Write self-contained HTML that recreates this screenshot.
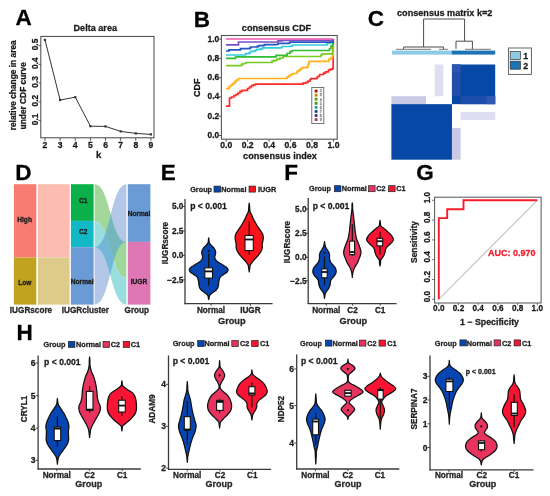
<!DOCTYPE html><html><head><meta charset="utf-8"><style>html,body{margin:0;padding:0;background:#fff;width:550px;height:496px;overflow:hidden}svg{display:block;filter:blur(0.3px)}text{font-family:"Liberation Sans", Arial, Helvetica, sans-serif;stroke-width:0.28px;paint-order:stroke;stroke-linejoin:round}</style></head><body>
<svg width="550" height="496" viewBox="0 0 550 496">
<rect width="550" height="496" fill="#fff"/>
<text x="15.4" y="24.6" font-size="22.5" text-anchor="start" font-weight="bold" fill="#000" stroke="#000" stroke-width="0.4">A</text>
<text x="193.8" y="27.2" font-size="22.5" text-anchor="start" font-weight="bold" fill="#000" stroke="#000" stroke-width="0.4">B</text>
<text x="367.8" y="25.8" font-size="22.5" text-anchor="start" font-weight="bold" fill="#000" stroke="#000" stroke-width="0.4">C</text>
<text x="15.2" y="179.6" font-size="22.5" text-anchor="start" font-weight="bold" fill="#000" stroke="#000" stroke-width="0.4">D</text>
<text x="160.8" y="179.8" font-size="22.5" text-anchor="start" font-weight="bold" fill="#000" stroke="#000" stroke-width="0.4">E</text>
<text x="284.2" y="179.7" font-size="22.5" text-anchor="start" font-weight="bold" fill="#000" stroke="#000" stroke-width="0.4">F</text>
<text x="416.2" y="179.8" font-size="22.5" text-anchor="start" font-weight="bold" fill="#000" stroke="#000" stroke-width="0.4">G</text>
<text x="16.5" y="340.2" font-size="22.5" text-anchor="start" font-weight="bold" fill="#000" stroke="#000" stroke-width="0.4">H</text>
<rect x="40.8" y="36.4" width="113.2" height="101.4" fill="none" stroke="#444" stroke-width="1"/>
<text x="95.3" y="30.7" font-size="9.1" text-anchor="middle" font-weight="bold" fill="#1a1a1a" stroke="#1a1a1a">Delta area</text>
<line x1="38.6" y1="45.7" x2="40.8" y2="45.7" stroke="#444" stroke-width="0.9"/>
<text x="38.1" y="44.5" font-size="8.3" text-anchor="middle" font-weight="bold" fill="#1a1a1a" stroke="#1a1a1a" transform="rotate(-90 38.1 44.5)" dy="-0.3">0.5</text>
<line x1="38.6" y1="64.4" x2="40.8" y2="64.4" stroke="#444" stroke-width="0.9"/>
<text x="38.1" y="63.2" font-size="8.3" text-anchor="middle" font-weight="bold" fill="#1a1a1a" stroke="#1a1a1a" transform="rotate(-90 38.1 63.2)" dy="-0.3">0.4</text>
<line x1="38.6" y1="83.1" x2="40.8" y2="83.1" stroke="#444" stroke-width="0.9"/>
<text x="38.1" y="81.9" font-size="8.3" text-anchor="middle" font-weight="bold" fill="#1a1a1a" stroke="#1a1a1a" transform="rotate(-90 38.1 81.9)" dy="-0.3">0.3</text>
<line x1="38.6" y1="101.9" x2="40.8" y2="101.9" stroke="#444" stroke-width="0.9"/>
<text x="38.1" y="100.7" font-size="8.3" text-anchor="middle" font-weight="bold" fill="#1a1a1a" stroke="#1a1a1a" transform="rotate(-90 38.1 100.7)" dy="-0.3">0.2</text>
<line x1="38.6" y1="120.6" x2="40.8" y2="120.6" stroke="#444" stroke-width="0.9"/>
<text x="38.1" y="119.4" font-size="8.3" text-anchor="middle" font-weight="bold" fill="#1a1a1a" stroke="#1a1a1a" transform="rotate(-90 38.1 119.4)" dy="-0.3">0.1</text>
<line x1="45" y1="137.8" x2="45" y2="140.8" stroke="#444" stroke-width="0.9"/>
<text x="45" y="147.6" font-size="8.6" text-anchor="middle" font-weight="bold" fill="#1a1a1a" stroke="#1a1a1a">2</text>
<line x1="60.13" y1="137.8" x2="60.13" y2="140.8" stroke="#444" stroke-width="0.9"/>
<text x="60.13" y="147.6" font-size="8.6" text-anchor="middle" font-weight="bold" fill="#1a1a1a" stroke="#1a1a1a">3</text>
<line x1="75.26" y1="137.8" x2="75.26" y2="140.8" stroke="#444" stroke-width="0.9"/>
<text x="75.26" y="147.6" font-size="8.6" text-anchor="middle" font-weight="bold" fill="#1a1a1a" stroke="#1a1a1a">4</text>
<line x1="90.39" y1="137.8" x2="90.39" y2="140.8" stroke="#444" stroke-width="0.9"/>
<text x="90.39" y="147.6" font-size="8.6" text-anchor="middle" font-weight="bold" fill="#1a1a1a" stroke="#1a1a1a">5</text>
<line x1="105.52" y1="137.8" x2="105.52" y2="140.8" stroke="#444" stroke-width="0.9"/>
<text x="105.52" y="147.6" font-size="8.6" text-anchor="middle" font-weight="bold" fill="#1a1a1a" stroke="#1a1a1a">6</text>
<line x1="120.65" y1="137.8" x2="120.65" y2="140.8" stroke="#444" stroke-width="0.9"/>
<text x="120.65" y="147.6" font-size="8.6" text-anchor="middle" font-weight="bold" fill="#1a1a1a" stroke="#1a1a1a">7</text>
<line x1="135.78" y1="137.8" x2="135.78" y2="140.8" stroke="#444" stroke-width="0.9"/>
<text x="135.78" y="147.6" font-size="8.6" text-anchor="middle" font-weight="bold" fill="#1a1a1a" stroke="#1a1a1a">8</text>
<line x1="150.91" y1="137.8" x2="150.91" y2="140.8" stroke="#444" stroke-width="0.9"/>
<text x="150.91" y="147.6" font-size="8.6" text-anchor="middle" font-weight="bold" fill="#1a1a1a" stroke="#1a1a1a">9</text>
<text x="98.6" y="157.6" font-size="9.5" text-anchor="middle" font-weight="bold" fill="#1a1a1a" stroke="#1a1a1a">k</text>
<text x="16.4" y="130.3" font-size="8.35" text-anchor="start" font-weight="bold" fill="#1a1a1a" stroke="#1a1a1a" transform="rotate(-90 16.4 130.3)">relative change in area</text>
<text x="26.3" y="129.4" font-size="8.35" text-anchor="start" font-weight="bold" fill="#1a1a1a" stroke="#1a1a1a" transform="rotate(-90 26.3 129.4)">under CDF curve</text>
<polyline points="45,39.9 60.1,100 75.3,97.2 90.4,126.2 105.5,126.4 120.7,131.4 135.8,133.4 150.9,134.4" fill="none" stroke="#333" stroke-width="1"/>
<rect x="43.9" y="38.8" width="2.2" height="2.2" fill="#333" stroke="none" stroke-width="1"/>
<rect x="59" y="98.9" width="2.2" height="2.2" fill="#333" stroke="none" stroke-width="1"/>
<rect x="74.2" y="96.1" width="2.2" height="2.2" fill="#333" stroke="none" stroke-width="1"/>
<rect x="89.3" y="125.1" width="2.2" height="2.2" fill="#333" stroke="none" stroke-width="1"/>
<rect x="104.4" y="125.3" width="2.2" height="2.2" fill="#333" stroke="none" stroke-width="1"/>
<rect x="119.6" y="130.3" width="2.2" height="2.2" fill="#333" stroke="none" stroke-width="1"/>
<rect x="134.7" y="132.3" width="2.2" height="2.2" fill="#333" stroke="none" stroke-width="1"/>
<rect x="149.8" y="133.3" width="2.2" height="2.2" fill="#333" stroke="none" stroke-width="1"/>
<text x="276.5" y="31" font-size="9.2" text-anchor="middle" font-weight="bold" fill="#1a1a1a" stroke="#1a1a1a">consensus CDF</text>
<line x1="218.6" y1="39.1" x2="221.4" y2="39.1" stroke="#444" stroke-width="0.9"/>
<text x="219.2" y="41.5" font-size="8.4" text-anchor="end" font-weight="bold" fill="#1a1a1a" stroke="#1a1a1a">1.0</text>
<line x1="218.6" y1="58.4" x2="221.4" y2="58.4" stroke="#444" stroke-width="0.9"/>
<text x="219.2" y="60.8" font-size="8.4" text-anchor="end" font-weight="bold" fill="#1a1a1a" stroke="#1a1a1a">0.8</text>
<line x1="218.6" y1="77.7" x2="221.4" y2="77.7" stroke="#444" stroke-width="0.9"/>
<text x="219.2" y="80.1" font-size="8.4" text-anchor="end" font-weight="bold" fill="#1a1a1a" stroke="#1a1a1a">0.6</text>
<line x1="218.6" y1="96.8" x2="221.4" y2="96.8" stroke="#444" stroke-width="0.9"/>
<text x="219.2" y="99.2" font-size="8.4" text-anchor="end" font-weight="bold" fill="#1a1a1a" stroke="#1a1a1a">0.4</text>
<line x1="218.6" y1="116.2" x2="221.4" y2="116.2" stroke="#444" stroke-width="0.9"/>
<text x="219.2" y="118.6" font-size="8.4" text-anchor="end" font-weight="bold" fill="#1a1a1a" stroke="#1a1a1a">0.2</text>
<line x1="218.6" y1="135.5" x2="221.4" y2="135.5" stroke="#444" stroke-width="0.9"/>
<text x="219.2" y="137.9" font-size="8.4" text-anchor="end" font-weight="bold" fill="#1a1a1a" stroke="#1a1a1a">0.0</text>
<line x1="226.2" y1="139.2" x2="226.2" y2="141.7" stroke="#444" stroke-width="0.9"/>
<text x="226.2" y="148.4" font-size="8.6" text-anchor="middle" font-weight="bold" fill="#1a1a1a" stroke="#1a1a1a">0.0</text>
<line x1="247.66" y1="139.2" x2="247.66" y2="141.7" stroke="#444" stroke-width="0.9"/>
<text x="247.66" y="148.4" font-size="8.6" text-anchor="middle" font-weight="bold" fill="#1a1a1a" stroke="#1a1a1a">0.2</text>
<line x1="269.12" y1="139.2" x2="269.12" y2="141.7" stroke="#444" stroke-width="0.9"/>
<text x="269.12" y="148.4" font-size="8.6" text-anchor="middle" font-weight="bold" fill="#1a1a1a" stroke="#1a1a1a">0.4</text>
<line x1="290.58" y1="139.2" x2="290.58" y2="141.7" stroke="#444" stroke-width="0.9"/>
<text x="290.58" y="148.4" font-size="8.6" text-anchor="middle" font-weight="bold" fill="#1a1a1a" stroke="#1a1a1a">0.6</text>
<line x1="312.04" y1="139.2" x2="312.04" y2="141.7" stroke="#444" stroke-width="0.9"/>
<text x="312.04" y="148.4" font-size="8.6" text-anchor="middle" font-weight="bold" fill="#1a1a1a" stroke="#1a1a1a">0.8</text>
<line x1="333.5" y1="139.2" x2="333.5" y2="141.7" stroke="#444" stroke-width="0.9"/>
<text x="333.5" y="148.4" font-size="8.6" text-anchor="middle" font-weight="bold" fill="#1a1a1a" stroke="#1a1a1a">1.0</text>
<text x="280" y="158.7" font-size="9.1" text-anchor="middle" font-weight="bold" fill="#1a1a1a" stroke="#1a1a1a">consensus index</text>
<text x="200.2" y="87.8" font-size="9" text-anchor="middle" font-weight="bold" fill="#1a1a1a" stroke="#1a1a1a" transform="rotate(-90 200.2 87.8)">CDF</text>
<polyline points="226,106.2 228.5,106.2 229.5,106.2 229.5,98 231.5,98 231.5,97 234,97 234,95.5 236,95.5 236,94.5 238,94.5 238,93 240,93 240,91.3 242,91.3 242,90.3 246,90.3 247.5,90.3 247.5,88.5 249.5,88.5 249.5,87 251.5,87 251.5,85.7 253.5,85.7 253.5,84.8 255.5,84.8 255.5,84.2 301.5,84.2 303,84.2 303,83.2 306,83.2 306,82.4 308,82.4 308,81.2 310,81.2 310,79.5 311,79.5 311,78.6 316,78.6 316,78.4 317.5,78.4 317.5,76.5 319.5,76.5 319.5,74.5 323.5,74.5 323.5,73.2 325.5,73.2 325.5,71.8 328.5,71.8 328.5,70.2 330.5,70.2 330.5,69.2 332.5,69.2 332.5,68.6 333.2,68.6 333.2,39.3" fill="none" stroke="#ff2a2a" stroke-width="1.7" stroke-linejoin="miter"/>
<polyline points="226,88.6 228,88.6 229,88.6 229,86.5 230.5,86.5 230.5,85.5 232,85.5 232,84.3 233.5,84.3 233.5,82.8 235,82.8 235,81.3 236.5,81.3 236.5,80 238.5,80 238.5,78.5 285,78.5 287,78.5 287,77 289,77 289,75.7 291,75.7 291,74.5 293,74.5 293,73.5 297,73.5 297,71.3 299,71.3 299,70.1 300.5,70.1 300.5,68.6 302,68.6 302,67.6 307,67.6 307,67.2 308,67.2 308,64.2 309,64.2 309,61.3 328,61.3 329,61.3 329,59.2 331,59.2 331,57.5 332.5,57.5 332.5,55.5 333.2,55.5 333.2,39.3" fill="none" stroke="#ffb21a" stroke-width="1.7" stroke-linejoin="miter"/>
<polyline points="226,65.6 240,65.6 241.5,65.6 241.5,64.3 243,64.3 243,63.5 246,63.5 246,62.5 270,62.5 272,62.5 272,61.2 274,61.2 274,60.3 277,60.3 277,59.2 280,59.2 280,58 283,58 283,56.5 320,56.5 321,56.5 321,55 322,55 322,53.8 331,53.8 332.5,53.8 332.5,50 333.2,50 333.2,39.3" fill="none" stroke="#77cc22" stroke-width="1.7" stroke-linejoin="miter"/>
<polyline points="226,58.3 234,58.3 235.5,58.3 235.5,57 237,57 237,56.8 274,56.8 276,56.8 276,55.4 285,55.4 287,55.4 287,53.5 290,53.5 290,51.6 292,51.6 292,50.5 328,50.5 329.5,50.5 329.5,48.5 331,48.5 331,46 332.5,46 332.5,44 333.2,44 333.2,39.3" fill="none" stroke="#33bb33" stroke-width="1.7" stroke-linejoin="miter"/>
<polyline points="226,55 244,55 245.5,55 245.5,53.7 249,53.7 249,52.8 250.5,52.8 250.5,51.3 255,51.3 255,50.5 256.5,50.5 256.5,49.3 261,49.3 261,48.8 262.5,48.8 262.5,47.8 280,47.8 280,47.6 282,47.6 282,46.5 291,46.5 291,46.2 292.5,46.2 292.5,45 325,45 327,45 327,43.5 330,43.5 330,42 332,42 332,40.5 333.2,40.5 333.2,39.3" fill="none" stroke="#33ccdd" stroke-width="1.7" stroke-linejoin="miter"/>
<polyline points="226,51 228,51 229,51 229,49.8 239,49.8 240.5,49.8 240.5,48.6 249,48.6 249,48.3 250.5,48.3 250.5,47 257,47 257,46.6 258.5,46.6 258.5,45.6 263,45.6 263,45.3 264.5,45.3 264.5,44.6 276,44.6 276,44.5 278,44.5 278,43.3 289,43.3 289,43 290,43 290,42.2 333.2,42.2 333.2,41.8 333.2,39.3" fill="none" stroke="#2456c0" stroke-width="1.7" stroke-linejoin="miter"/>
<polyline points="226,44.9 237,44.9 238.5,44.9 238.5,42 276,42 278,42 278,40.8 282,40.8 282,40.3 288,40.3 333.2,40.3 333.2,39.3" fill="none" stroke="#7a4fc4" stroke-width="1.7" stroke-linejoin="miter"/>
<polyline points="226,39 333.2,39" fill="none" stroke="#f055b0" stroke-width="1.7" stroke-linejoin="miter"/>
<rect x="221.4" y="35.5" width="115.8" height="103.7" fill="none" stroke="#555" stroke-width="1.1"/>
<rect x="311.8" y="87.4" width="12" height="36.2" fill="#fff" stroke="#555" stroke-width="0.8"/>
<rect x="314.7" y="89.7" width="2.8" height="2.8" fill="#a01010" stroke="none" stroke-width="1"/>
<text x="320.8" y="92.4" font-size="3.6" text-anchor="middle" font-weight="normal" fill="#888" stroke="#888" stroke-width="0.12">2</text>
<rect x="314.7" y="93.77" width="2.8" height="2.8" fill="#b88a00" stroke="none" stroke-width="1"/>
<text x="320.8" y="96.47" font-size="3.6" text-anchor="middle" font-weight="normal" fill="#888" stroke="#888" stroke-width="0.12">3</text>
<rect x="314.7" y="97.84" width="2.8" height="2.8" fill="#5a9a10" stroke="none" stroke-width="1"/>
<text x="320.8" y="100.54" font-size="3.6" text-anchor="middle" font-weight="normal" fill="#888" stroke="#888" stroke-width="0.12">4</text>
<rect x="314.7" y="101.91" width="2.8" height="2.8" fill="#2a9a2a" stroke="none" stroke-width="1"/>
<text x="320.8" y="104.61" font-size="3.6" text-anchor="middle" font-weight="normal" fill="#888" stroke="#888" stroke-width="0.12">5</text>
<rect x="314.7" y="105.98" width="2.8" height="2.8" fill="#229aaa" stroke="none" stroke-width="1"/>
<text x="320.8" y="108.68" font-size="3.6" text-anchor="middle" font-weight="normal" fill="#888" stroke="#888" stroke-width="0.12">6</text>
<rect x="314.7" y="110.05" width="2.8" height="2.8" fill="#1a3d9a" stroke="none" stroke-width="1"/>
<text x="320.8" y="112.75" font-size="3.6" text-anchor="middle" font-weight="normal" fill="#888" stroke="#888" stroke-width="0.12">7</text>
<rect x="314.7" y="114.12" width="2.8" height="2.8" fill="#4a2a8a" stroke="none" stroke-width="1"/>
<text x="320.8" y="116.82" font-size="3.6" text-anchor="middle" font-weight="normal" fill="#888" stroke="#888" stroke-width="0.12">8</text>
<rect x="314.7" y="118.19" width="2.8" height="2.8" fill="#b0306a" stroke="none" stroke-width="1"/>
<text x="320.8" y="120.89" font-size="3.6" text-anchor="middle" font-weight="normal" fill="#888" stroke="#888" stroke-width="0.12">9</text>
<text x="444.7" y="16.4" font-size="9.1" text-anchor="middle" font-weight="bold" fill="#1a1a1a" stroke="#1a1a1a">consensus matrix k=2</text>
<line x1="423.6" y1="19" x2="464.6" y2="19" stroke="#4a4a4a" stroke-width="1"/>
<line x1="423.6" y1="19" x2="423.6" y2="47" stroke="#4a4a4a" stroke-width="1"/>
<line x1="464.6" y1="19" x2="464.6" y2="41.2" stroke="#4a4a4a" stroke-width="1"/>
<line x1="456" y1="41.2" x2="472.4" y2="41.2" stroke="#4a4a4a" stroke-width="1"/>
<line x1="456" y1="41.2" x2="456" y2="48.8" stroke="#4a4a4a" stroke-width="1"/>
<line x1="472.4" y1="41.2" x2="472.4" y2="49.2" stroke="#4a4a4a" stroke-width="1"/>
<line x1="465" y1="49.3" x2="491" y2="49.3" stroke="#777" stroke-width="1"/>
<line x1="403.6" y1="47" x2="443.6" y2="47" stroke="#4a4a4a" stroke-width="1"/>
<line x1="403.6" y1="47" x2="403.6" y2="49.2" stroke="#4a4a4a" stroke-width="1"/>
<line x1="443.6" y1="47" x2="443.6" y2="49.2" stroke="#4a4a4a" stroke-width="1"/>
<line x1="396" y1="49.3" x2="431" y2="49.3" stroke="#777" stroke-width="1"/>
<line x1="439" y1="49.3" x2="448" y2="49.3" stroke="#777" stroke-width="1"/>
<rect x="392" y="50.6" width="59.7" height="4" fill="#8ccbe4" stroke="none" stroke-width="1"/>
<rect x="451.7" y="50.6" width="43.5" height="4" fill="#1a74b6" stroke="none" stroke-width="1"/>
<rect x="451.95" y="64.5" width="43.25" height="39.66" fill="#0747a6" stroke="none" stroke-width="1"/>
<rect x="451.95" y="64.5" width="8.65" height="31.73" fill="#1f4eab" stroke="none" stroke-width="1"/>
<rect x="451.95" y="64.5" width="8.65" height="7.93" fill="#2c55b0" stroke="none" stroke-width="1"/>
<rect x="460.6" y="96.23" width="34.6" height="7.93" fill="#1d4dab" stroke="none" stroke-width="1"/>
<rect x="486.55" y="96.23" width="8.65" height="7.93" fill="#2f58b2" stroke="none" stroke-width="1"/>
<rect x="434.65" y="64.5" width="8.65" height="31.73" fill="#dedef2" stroke="none" stroke-width="1"/>
<rect x="391.4" y="96.23" width="34.6" height="7.93" fill="#c9c9e5" stroke="none" stroke-width="1"/>
<rect x="391.4" y="104.16" width="60.55" height="55.53" fill="#0747a6" stroke="none" stroke-width="1"/>
<rect x="460.6" y="112.1" width="34.6" height="7.93" fill="#dedef2" stroke="none" stroke-width="1"/>
<rect x="451.95" y="127.96" width="8.65" height="31.73" fill="#c9c9e5" stroke="none" stroke-width="1"/>
<rect x="508.4" y="48" width="23" height="26.4" fill="#fff" stroke="#555" stroke-width="0.9"/>
<rect x="510.2" y="51.6" width="10.2" height="8" fill="#8ccbe4" stroke="#333" stroke-width="0.7"/>
<rect x="510.2" y="61.2" width="10.2" height="8" fill="#1a74b6" stroke="#333" stroke-width="0.7"/>
<text x="525.8" y="59.3" font-size="8.8" text-anchor="middle" font-weight="bold" fill="#1a1a1a" stroke="#1a1a1a">1</text>
<text x="525.8" y="69" font-size="8.8" text-anchor="middle" font-weight="bold" fill="#1a1a1a" stroke="#1a1a1a">2</text>
<rect x="13.9" y="184.2" width="22.4" height="73.3" fill="#f87c72" stroke="none" stroke-width="1"/>
<rect x="13.9" y="257.5" width="22.4" height="47.1" fill="#c1a31f" stroke="none" stroke-width="1"/>
<rect x="38" y="184.2" width="31.6" height="73.3" fill="#fcbcb2" stroke="none" stroke-width="1"/>
<rect x="38" y="257.5" width="31.6" height="47.1" fill="#dccb8b" stroke="none" stroke-width="1"/>
<rect x="70.9" y="184.2" width="22.7" height="36.7" fill="#0bb04a" stroke="none" stroke-width="1"/>
<rect x="70.9" y="220.9" width="22.7" height="26.3" fill="#13b8c6" stroke="none" stroke-width="1"/>
<rect x="70.9" y="247.2" width="22.7" height="57.4" fill="#6b9bd5" stroke="none" stroke-width="1"/>
<rect x="127.8" y="184.2" width="22.6" height="57.7" fill="#6b9bd5" stroke="none" stroke-width="1"/>
<rect x="127.8" y="241.9" width="22.6" height="62.7" fill="#de77b4" stroke="none" stroke-width="1"/>
<defs><clipPath id="cpB"><path d="M94.6,247.2 C110.5,247.2 110.5,184.2 126.4,184.2 L126.4,241.9 C110.5,241.9 110.5,304.6 94.6,304.6 Z"/></clipPath></defs>
<path d="M94.6,247.2 C110.5,247.2 110.5,184.2 126.4,184.2 L126.4,241.9 C110.5,241.9 110.5,304.6 94.6,304.6 Z" fill="#b4c7e8"/>
<path d="M94.6,184.2 C110.5,184.2 110.5,241.9 126.4,241.9 L126.4,277.7 C110.5,277.7 110.5,220.9 94.6,220.9 Z" fill="#a2d79c"/>
<path d="M94.6,220.9 C110.5,220.9 110.5,277.7 126.4,277.7 L126.4,304.6 C110.5,304.6 110.5,247.2 94.6,247.2 Z" fill="#98dedc"/>
<path d="M94.6,184.2 C110.5,184.2 110.5,241.9 126.4,241.9 L126.4,277.7 C110.5,277.7 110.5,220.9 94.6,220.9 Z" fill="#74b8bd" clip-path="url(#cpB)"/>
<path d="M94.6,220.9 C110.5,220.9 110.5,277.7 126.4,277.7 L126.4,304.6 C110.5,304.6 110.5,247.2 94.6,247.2 Z" fill="#74b6d8" clip-path="url(#cpB)"/>
<text x="24.6" y="221.8" font-size="6.6" text-anchor="middle" font-weight="bold" fill="#1a1a1a" stroke="#1a1a1a" stroke-width="0.12">High</text>
<text x="24.8" y="284.5" font-size="6.6" text-anchor="middle" font-weight="bold" fill="#1a1a1a" stroke="#1a1a1a" stroke-width="0.12">Low</text>
<text x="83.2" y="203.4" font-size="6.6" text-anchor="middle" font-weight="bold" fill="#1a1a1a" stroke="#1a1a1a" stroke-width="0.12">C1</text>
<text x="83.2" y="234.3" font-size="6.6" text-anchor="middle" font-weight="bold" fill="#1a1a1a" stroke="#1a1a1a" stroke-width="0.12">C2</text>
<text x="82.2" y="284.4" font-size="6.6" text-anchor="middle" font-weight="bold" fill="#1a1a1a" stroke="#1a1a1a" stroke-width="0.12">Normal</text>
<text x="139" y="216" font-size="6.6" text-anchor="middle" font-weight="bold" fill="#1a1a1a" stroke="#1a1a1a" stroke-width="0.12">Normal</text>
<text x="139" y="284.4" font-size="6.6" text-anchor="middle" font-weight="bold" fill="#1a1a1a" stroke="#1a1a1a" stroke-width="0.12">IUGR</text>
<text x="31" y="313" font-size="8.2" text-anchor="middle" font-weight="bold" fill="#262626" stroke="#262626">IUGRscore</text>
<text x="85.4" y="313" font-size="8.2" text-anchor="middle" font-weight="bold" fill="#262626" stroke="#262626">IUGRcluster</text>
<text x="136.8" y="313" font-size="8.2" text-anchor="middle" font-weight="bold" fill="#262626" stroke="#262626">Group</text>
<text x="190.2" y="191.7" font-size="7.3" text-anchor="start" font-weight="bold" fill="#262626" stroke="#262626" stroke-width="0.12">Group</text>
<rect x="214" y="186.1" width="6.5" height="6" fill="#0745b3" stroke="#222" stroke-width="0.7"/>
<text x="221.3" y="191.7" font-size="7.3" text-anchor="start" font-weight="bold" fill="#222" stroke="#222" stroke-width="0.12">Normal</text>
<rect x="249" y="186.1" width="6.5" height="6" fill="#f8141a" stroke="#222" stroke-width="0.7"/>
<text x="258" y="191.7" font-size="7.3" text-anchor="start" font-weight="bold" fill="#222" stroke="#222" stroke-width="0.12">IUGR</text>
<line x1="185" y1="199" x2="185" y2="304.2" stroke="#3a3a3a" stroke-width="1.3"/>
<line x1="184.5" y1="303.7" x2="272.6" y2="303.7" stroke="#3a3a3a" stroke-width="1.3"/>
<line x1="182.5" y1="206.5" x2="185" y2="206.5" stroke="#3a3a3a" stroke-width="0.9"/>
<text x="183.3" y="209.45" font-size="8.2" text-anchor="end" font-weight="bold" fill="#1e1e1e" stroke="#1e1e1e">5.0</text>
<line x1="182.5" y1="230.9" x2="185" y2="230.9" stroke="#3a3a3a" stroke-width="0.9"/>
<text x="183.3" y="233.85" font-size="8.2" text-anchor="end" font-weight="bold" fill="#1e1e1e" stroke="#1e1e1e">2.5</text>
<line x1="182.5" y1="255.4" x2="185" y2="255.4" stroke="#3a3a3a" stroke-width="0.9"/>
<text x="183.3" y="258.35" font-size="8.2" text-anchor="end" font-weight="bold" fill="#1e1e1e" stroke="#1e1e1e">0.0</text>
<line x1="182.5" y1="279.9" x2="185" y2="279.9" stroke="#3a3a3a" stroke-width="0.9"/>
<text x="183.3" y="282.85" font-size="8.2" text-anchor="end" font-weight="bold" fill="#1e1e1e" stroke="#1e1e1e">−2.5</text>
<text x="190.2" y="209.3" font-size="8.6" text-anchor="start" font-weight="bold" fill="#1a1a1a" stroke="#1a1a1a">p &lt; 0.001</text>
<text x="168.2" y="243" font-size="8.2" text-anchor="middle" font-weight="bold" fill="#222" stroke="#222" transform="rotate(-90 168.2 243)">IUGRscore</text>
<path d="M208.7,237.8 C208.75,238.17 208.91,239.22 209,240 C209.09,240.78 209.01,241.75 209.25,242.5 C209.49,243.25 209.92,243.83 210.45,244.5 C210.98,245.17 211.82,245.83 212.45,246.5 C213.08,247.17 213.75,247.75 214.25,248.5 C214.75,249.25 215.22,250.25 215.45,251 C215.68,251.75 215.68,252.33 215.65,253 C215.62,253.67 215.4,254.33 215.25,255 C215.1,255.67 214.7,256.25 214.75,257 C214.8,257.75 215,258.67 215.55,259.5 C216.1,260.33 216.9,261.13 218.05,262 C219.2,262.87 221.12,263.87 222.45,264.7 C223.78,265.53 225.12,266.18 226.05,267 C226.98,267.82 227.88,268.77 228.05,269.6 C228.22,270.43 227.77,271.18 227.05,272 C226.33,272.82 224.92,273.6 223.75,274.5 C222.58,275.4 220.87,276.22 220.05,277.4 C219.23,278.58 219.13,280.2 218.85,281.6 C218.57,283 218.58,284.65 218.35,285.8 C218.12,286.95 217.88,287.72 217.45,288.5 C217.02,289.28 216.48,289.83 215.75,290.5 C215.02,291.17 213.9,291.87 213.05,292.5 C212.2,293.13 211.27,293.72 210.65,294.3 C210.03,294.88 209.62,295.38 209.35,296 C209.08,296.62 209.16,297.42 209.05,298 C208.94,298.58 208.76,299.25 208.7,299.5 C208.64,299.25 208.46,298.58 208.35,298 C208.24,297.42 208.32,296.62 208.05,296 C207.78,295.38 207.37,294.88 206.75,294.3 C206.13,293.72 205.2,293.13 204.35,292.5 C203.5,291.87 202.38,291.17 201.65,290.5 C200.92,289.83 200.38,289.28 199.95,288.5 C199.52,287.72 199.28,286.95 199.05,285.8 C198.82,284.65 198.83,283 198.55,281.6 C198.27,280.2 198.17,278.58 197.35,277.4 C196.53,276.22 194.82,275.4 193.65,274.5 C192.48,273.6 191.07,272.82 190.35,272 C189.63,271.18 189.18,270.43 189.35,269.6 C189.52,268.77 190.42,267.82 191.35,267 C192.28,266.18 193.62,265.53 194.95,264.7 C196.28,263.87 198.2,262.87 199.35,262 C200.5,261.13 201.3,260.33 201.85,259.5 C202.4,258.67 202.6,257.75 202.65,257 C202.7,256.25 202.3,255.67 202.15,255 C202,254.33 201.78,253.67 201.75,253 C201.72,252.33 201.72,251.75 201.95,251 C202.18,250.25 202.65,249.25 203.15,248.5 C203.65,247.75 204.32,247.17 204.95,246.5 C205.58,245.83 206.42,245.17 206.95,244.5 C207.48,243.83 207.91,243.25 208.15,242.5 C208.39,241.75 208.31,240.78 208.4,240 C208.49,239.22 208.65,238.17 208.7,237.8 Z" fill="#0745b3" stroke="#111" stroke-width="1.25" stroke-linejoin="round"/>
<line x1="208.7" y1="253.4" x2="208.7" y2="285.8" stroke="#111" stroke-width="1.2"/>
<rect x="204.8" y="267.8" width="7.7" height="10.3" fill="#fff" stroke="#111" stroke-width="1.1"/>
<line x1="204.8" y1="271.4" x2="212.5" y2="271.4" stroke="#111" stroke-width="1.8"/>
<circle cx="208.7" cy="251.2" r="1.1" fill="#111"/>
<path d="M249.2,203.1 C249.26,203.58 249.46,204.98 249.55,206 C249.64,207.02 249.63,208.15 249.75,209.2 C249.87,210.25 249.9,211.28 250.25,212.3 C250.6,213.32 251.25,214.03 251.85,215.3 C252.45,216.57 253.08,218.37 253.85,219.9 C254.62,221.43 255.52,222.97 256.45,224.5 C257.38,226.03 258.52,227.7 259.45,229.1 C260.38,230.5 261.42,231.62 262.05,232.9 C262.68,234.18 263.1,235.52 263.25,236.8 C263.4,238.08 263.13,239.33 262.95,240.6 C262.77,241.87 262.25,243.25 262.15,244.4 C262.05,245.55 262.53,246.35 262.35,247.5 C262.17,248.65 261.7,250.02 261.05,251.3 C260.4,252.58 259.48,253.92 258.45,255.2 C257.42,256.48 255.88,257.85 254.85,259 C253.82,260.15 253.02,261.08 252.25,262.1 C251.48,263.12 250.67,264.08 250.25,265.1 C249.83,266.12 249.93,267.05 249.75,268.2 C249.57,269.35 249.29,271.37 249.2,272 C249.11,271.37 248.82,269.35 248.65,268.2 C248.47,267.05 248.57,266.12 248.15,265.1 C247.73,264.08 246.92,263.12 246.15,262.1 C245.38,261.08 244.58,260.15 243.55,259 C242.52,257.85 240.98,256.48 239.95,255.2 C238.92,253.92 238,252.58 237.35,251.3 C236.7,250.02 236.23,248.65 236.05,247.5 C235.87,246.35 236.35,245.55 236.25,244.4 C236.15,243.25 235.63,241.87 235.45,240.6 C235.27,239.33 235,238.08 235.15,236.8 C235.3,235.52 235.72,234.18 236.35,232.9 C236.98,231.62 238.02,230.5 238.95,229.1 C239.88,227.7 241.02,226.03 241.95,224.5 C242.88,222.97 243.78,221.43 244.55,219.9 C245.32,218.37 245.95,216.57 246.55,215.3 C247.15,214.03 247.8,213.32 248.15,212.3 C248.5,211.28 248.53,210.25 248.65,209.2 C248.77,208.15 248.76,207.02 248.85,206 C248.94,204.98 249.14,203.58 249.2,203.1 Z" fill="#f8141a" stroke="#111" stroke-width="1.25" stroke-linejoin="round"/>
<line x1="249.2" y1="221.5" x2="249.2" y2="254.4" stroke="#111" stroke-width="1.2"/>
<rect x="245" y="235.5" width="8.3" height="15.1" fill="#fff" stroke="#111" stroke-width="1.1"/>
<line x1="245" y1="239.5" x2="253.3" y2="239.5" stroke="#111" stroke-width="1.8"/>
<line x1="211" y1="303.7" x2="211" y2="305.9" stroke="#3a3a3a" stroke-width="0.9"/>
<text x="211" y="312.6" font-size="8.2" text-anchor="middle" font-weight="bold" fill="#222" stroke="#222">Normal</text>
<line x1="250.4" y1="303.7" x2="250.4" y2="305.9" stroke="#3a3a3a" stroke-width="0.9"/>
<text x="250.4" y="312.6" font-size="8.2" text-anchor="middle" font-weight="bold" fill="#222" stroke="#222">IUGR</text>
<text x="231.8" y="324.3" font-size="9.2" text-anchor="middle" font-weight="bold" fill="#262626" stroke="#262626">Group</text>
<text x="309" y="191.3" font-size="7.3" text-anchor="start" font-weight="bold" fill="#262626" stroke="#262626" stroke-width="0.12">Group</text>
<rect x="334.4" y="185.7" width="6.5" height="6" fill="#0745b3" stroke="#222" stroke-width="0.7"/>
<text x="341.7" y="191.3" font-size="7.3" text-anchor="start" font-weight="bold" fill="#222" stroke="#222" stroke-width="0.12">Normal</text>
<rect x="368.6" y="185.7" width="6.5" height="6" fill="#e6345e" stroke="#222" stroke-width="0.7"/>
<text x="376.3" y="191.3" font-size="7.3" text-anchor="start" font-weight="bold" fill="#222" stroke="#222" stroke-width="0.12">C2</text>
<rect x="388.6" y="185.7" width="6.5" height="6" fill="#f81432" stroke="#222" stroke-width="0.7"/>
<text x="396.3" y="191.3" font-size="7.3" text-anchor="start" font-weight="bold" fill="#222" stroke="#222" stroke-width="0.12">C1</text>
<line x1="308.2" y1="198" x2="308.2" y2="304.1" stroke="#3a3a3a" stroke-width="1.3"/>
<line x1="307.7" y1="303.6" x2="396.6" y2="303.6" stroke="#3a3a3a" stroke-width="1.3"/>
<line x1="305.7" y1="209" x2="308.2" y2="209" stroke="#3a3a3a" stroke-width="0.9"/>
<text x="306.5" y="211.95" font-size="8.2" text-anchor="end" font-weight="bold" fill="#1e1e1e" stroke="#1e1e1e">5.0</text>
<line x1="305.7" y1="233.2" x2="308.2" y2="233.2" stroke="#3a3a3a" stroke-width="0.9"/>
<text x="306.5" y="236.15" font-size="8.2" text-anchor="end" font-weight="bold" fill="#1e1e1e" stroke="#1e1e1e">2.5</text>
<line x1="305.7" y1="257.3" x2="308.2" y2="257.3" stroke="#3a3a3a" stroke-width="0.9"/>
<text x="306.5" y="260.25" font-size="8.2" text-anchor="end" font-weight="bold" fill="#1e1e1e" stroke="#1e1e1e">0.0</text>
<line x1="305.7" y1="280.6" x2="308.2" y2="280.6" stroke="#3a3a3a" stroke-width="0.9"/>
<text x="306.5" y="283.55" font-size="8.2" text-anchor="end" font-weight="bold" fill="#1e1e1e" stroke="#1e1e1e">−2.5</text>
<text x="312.7" y="209.3" font-size="8.6" text-anchor="start" font-weight="bold" fill="#1a1a1a" stroke="#1a1a1a">p &lt; 0.001</text>
<text x="290" y="242" font-size="8.2" text-anchor="middle" font-weight="bold" fill="#222" stroke="#222" transform="rotate(-90 290 242)">IUGRscore</text>
<path d="M324.5,241.5 C324.56,241.92 324.71,243.17 324.85,244 C324.99,244.83 325.08,245.75 325.35,246.5 C325.62,247.25 326,247.73 326.45,248.5 C326.9,249.27 327.62,250.35 328.05,251.1 C328.48,251.85 328.8,252.32 329.05,253 C329.3,253.68 329.48,254.48 329.55,255.2 C329.62,255.92 329.43,256.62 329.45,257.3 C329.47,257.98 329.5,258.62 329.65,259.3 C329.8,259.98 330.03,260.72 330.35,261.4 C330.67,262.08 331.05,262.72 331.55,263.4 C332.05,264.08 332.77,264.82 333.35,265.5 C333.93,266.18 334.62,266.82 335.05,267.5 C335.48,268.18 335.77,268.9 335.95,269.6 C336.13,270.3 336.2,271 336.15,271.7 C336.1,272.4 335.95,273.12 335.65,273.8 C335.35,274.48 334.88,275.12 334.35,275.8 C333.82,276.48 333.02,277.22 332.45,277.9 C331.88,278.58 331.28,279.22 330.95,279.9 C330.62,280.58 330.57,281.32 330.45,282 C330.33,282.68 330.52,282.98 330.25,284 C329.98,285.02 329.35,287.02 328.85,288.1 C328.35,289.18 327.72,289.82 327.25,290.5 C326.78,291.18 326.4,291.62 326.05,292.2 C325.7,292.78 325.35,293.37 325.15,294 C324.95,294.63 324.96,295.27 324.85,296 C324.74,296.73 324.56,298 324.5,298.4 C324.44,298 324.26,296.73 324.15,296 C324.04,295.27 324.05,294.63 323.85,294 C323.65,293.37 323.3,292.78 322.95,292.2 C322.6,291.62 322.22,291.18 321.75,290.5 C321.28,289.82 320.65,289.18 320.15,288.1 C319.65,287.02 319.02,285.02 318.75,284 C318.48,282.98 318.67,282.68 318.55,282 C318.43,281.32 318.38,280.58 318.05,279.9 C317.72,279.22 317.12,278.58 316.55,277.9 C315.98,277.22 315.18,276.48 314.65,275.8 C314.12,275.12 313.65,274.48 313.35,273.8 C313.05,273.12 312.9,272.4 312.85,271.7 C312.8,271 312.87,270.3 313.05,269.6 C313.23,268.9 313.52,268.18 313.95,267.5 C314.38,266.82 315.07,266.18 315.65,265.5 C316.23,264.82 316.95,264.08 317.45,263.4 C317.95,262.72 318.33,262.08 318.65,261.4 C318.97,260.72 319.2,259.98 319.35,259.3 C319.5,258.62 319.53,257.98 319.55,257.3 C319.57,256.62 319.38,255.92 319.45,255.2 C319.52,254.48 319.7,253.68 319.95,253 C320.2,252.32 320.52,251.85 320.95,251.1 C321.38,250.35 322.1,249.27 322.55,248.5 C323,247.73 323.38,247.25 323.65,246.5 C323.92,245.75 324.01,244.83 324.15,244 C324.29,243.17 324.44,241.92 324.5,241.5 Z" fill="#0745b3" stroke="#111" stroke-width="1.25" stroke-linejoin="round"/>
<line x1="324.5" y1="256.6" x2="324.5" y2="285.4" stroke="#111" stroke-width="1.2"/>
<rect x="321.7" y="268.9" width="5.5" height="8.9" fill="#fff" stroke="#111" stroke-width="1.1"/>
<line x1="321.7" y1="272" x2="327.2" y2="272" stroke="#111" stroke-width="1.8"/>
<circle cx="324.5" cy="253.1" r="1.1" fill="#111"/>
<path d="M352.3,202.8 C352.35,203.17 352.55,204.13 352.6,205 C352.65,205.87 352.56,207.05 352.6,208 C352.64,208.95 352.73,209.55 352.85,210.7 C352.98,211.85 353.1,212.8 353.35,214.9 C353.6,217 354.03,220.48 354.35,223.3 C354.67,226.12 354.9,229.27 355.25,231.8 C355.6,234.33 355.92,236.53 356.45,238.5 C356.98,240.47 357.82,241.9 358.45,243.6 C359.08,245.3 359.83,247.3 360.25,248.7 C360.67,250.1 360.9,250.95 360.95,252 C361,253.05 360.75,254.15 360.55,255 C360.35,255.85 360.22,255.9 359.75,257.1 C359.28,258.3 358.58,260.5 357.75,262.2 C356.92,263.9 355.48,265.9 354.75,267.3 C354.02,268.7 353.7,269.48 353.35,270.6 C353,271.72 352.83,272.87 352.65,274 C352.48,275.13 352.36,276.83 352.3,277.4 C352.24,276.83 352.12,275.13 351.95,274 C351.77,272.87 351.6,271.72 351.25,270.6 C350.9,269.48 350.58,268.7 349.85,267.3 C349.12,265.9 347.68,263.9 346.85,262.2 C346.02,260.5 345.32,258.3 344.85,257.1 C344.38,255.9 344.25,255.85 344.05,255 C343.85,254.15 343.6,253.05 343.65,252 C343.7,250.95 343.93,250.1 344.35,248.7 C344.77,247.3 345.52,245.3 346.15,243.6 C346.78,241.9 347.62,240.47 348.15,238.5 C348.68,236.53 349,234.33 349.35,231.8 C349.7,229.27 349.93,226.12 350.25,223.3 C350.57,220.48 351,217 351.25,214.9 C351.5,212.8 351.62,211.85 351.75,210.7 C351.88,209.55 351.96,208.95 352,208 C352.04,207.05 351.95,205.87 352,205 C352.05,204.13 352.25,203.17 352.3,202.8 Z" fill="#e6345e" stroke="#111" stroke-width="1.25" stroke-linejoin="round"/>
<line x1="352.3" y1="224" x2="352.3" y2="256" stroke="#111" stroke-width="1.2"/>
<rect x="349.6" y="241.1" width="5" height="13.5" fill="#fff" stroke="#111" stroke-width="1.1"/>
<line x1="349.6" y1="252" x2="354.6" y2="252" stroke="#111" stroke-width="1.8"/>
<path d="M380,220.4 C380.06,220.75 380.26,221.78 380.35,222.5 C380.44,223.22 380.42,224.07 380.55,224.7 C380.68,225.33 380.58,225.67 381.15,226.3 C381.72,226.93 382.95,227.68 383.95,228.5 C384.95,229.32 386.12,230.28 387.15,231.2 C388.18,232.12 389.3,233.08 390.15,234 C391,234.92 391.7,235.8 392.25,236.7 C392.8,237.6 393.48,238.5 393.45,239.4 C393.42,240.3 392.73,241.2 392.05,242.1 C391.37,243 390.28,243.88 389.35,244.8 C388.42,245.72 387.08,246.78 386.45,247.6 C385.82,248.42 385.8,248.88 385.55,249.7 C385.3,250.52 385.22,251.58 384.95,252.5 C384.68,253.42 384.4,254.3 383.95,255.2 C383.5,256.1 382.8,257.08 382.25,257.9 C381.7,258.72 380.93,259.28 380.65,260.1 C380.37,260.92 380.66,261.82 380.55,262.8 C380.44,263.78 380.09,265.47 380,266 C379.91,265.47 379.56,263.78 379.45,262.8 C379.34,261.82 379.63,260.92 379.35,260.1 C379.07,259.28 378.3,258.72 377.75,257.9 C377.2,257.08 376.5,256.1 376.05,255.2 C375.6,254.3 375.32,253.42 375.05,252.5 C374.78,251.58 374.7,250.52 374.45,249.7 C374.2,248.88 374.18,248.42 373.55,247.6 C372.92,246.78 371.58,245.72 370.65,244.8 C369.72,243.88 368.63,243 367.95,242.1 C367.27,241.2 366.58,240.3 366.55,239.4 C366.52,238.5 367.2,237.6 367.75,236.7 C368.3,235.8 369,234.92 369.85,234 C370.7,233.08 371.82,232.12 372.85,231.2 C373.88,230.28 375.05,229.32 376.05,228.5 C377.05,227.68 378.28,226.93 378.85,226.3 C379.42,225.67 379.32,225.33 379.45,224.7 C379.58,224.07 379.56,223.22 379.65,222.5 C379.74,221.78 379.94,220.75 380,220.4 Z" fill="#f81432" stroke="#111" stroke-width="1.25" stroke-linejoin="round"/>
<line x1="380" y1="231.8" x2="380" y2="254.6" stroke="#111" stroke-width="1.2"/>
<rect x="377" y="238.3" width="5.7" height="7.6" fill="#fff" stroke="#111" stroke-width="1.1"/>
<line x1="377" y1="241.2" x2="382.7" y2="241.2" stroke="#111" stroke-width="1.8"/>
<line x1="326.3" y1="303.6" x2="326.3" y2="305.8" stroke="#3a3a3a" stroke-width="0.9"/>
<text x="326.3" y="312.6" font-size="8.2" text-anchor="middle" font-weight="bold" fill="#222" stroke="#222">Normal</text>
<line x1="352.6" y1="303.6" x2="352.6" y2="305.8" stroke="#3a3a3a" stroke-width="0.9"/>
<text x="352.6" y="312.6" font-size="8.2" text-anchor="middle" font-weight="bold" fill="#222" stroke="#222">C2</text>
<line x1="380.2" y1="303.6" x2="380.2" y2="305.8" stroke="#3a3a3a" stroke-width="0.9"/>
<text x="380.2" y="312.6" font-size="8.2" text-anchor="middle" font-weight="bold" fill="#222" stroke="#222">C1</text>
<text x="353.4" y="324.3" font-size="9.2" text-anchor="middle" font-weight="bold" fill="#262626" stroke="#262626">Group</text>
<line x1="438.8" y1="299.3" x2="537.3" y2="200.3" stroke="#c2c2c2" stroke-width="1.15"/>
<polyline points="438.8,299.3 438.8,218.12 447.2,218.12 447.2,209.21 463.5,209.21 463.5,200.3 537.3,200.3" fill="none" stroke="#f41c28" stroke-width="1.9"/>
<rect x="434.6" y="197.2" width="106.5" height="105.8" fill="none" stroke="#555" stroke-width="1"/>
<line x1="432" y1="299.3" x2="434.6" y2="299.3" stroke="#555" stroke-width="0.8"/>
<text x="429.6" y="296.5" font-size="8.2" text-anchor="middle" font-weight="bold" fill="#1a1a1a" stroke="#1a1a1a" transform="rotate(-90 429.6 296.5)">0.0</text>
<line x1="438.8" y1="303" x2="438.8" y2="305.3" stroke="#555" stroke-width="0.8"/>
<text x="438.8" y="311.2" font-size="8.2" text-anchor="middle" font-weight="bold" fill="#1a1a1a" stroke="#1a1a1a">0.0</text>
<line x1="432" y1="279.5" x2="434.6" y2="279.5" stroke="#555" stroke-width="0.8"/>
<text x="429.6" y="276.7" font-size="8.2" text-anchor="middle" font-weight="bold" fill="#1a1a1a" stroke="#1a1a1a" transform="rotate(-90 429.6 276.7)">0.2</text>
<line x1="458.5" y1="303" x2="458.5" y2="305.3" stroke="#555" stroke-width="0.8"/>
<text x="458.5" y="311.2" font-size="8.2" text-anchor="middle" font-weight="bold" fill="#1a1a1a" stroke="#1a1a1a">0.2</text>
<line x1="432" y1="259.7" x2="434.6" y2="259.7" stroke="#555" stroke-width="0.8"/>
<text x="429.6" y="256.9" font-size="8.2" text-anchor="middle" font-weight="bold" fill="#1a1a1a" stroke="#1a1a1a" transform="rotate(-90 429.6 256.9)">0.4</text>
<line x1="478.2" y1="303" x2="478.2" y2="305.3" stroke="#555" stroke-width="0.8"/>
<text x="478.2" y="311.2" font-size="8.2" text-anchor="middle" font-weight="bold" fill="#1a1a1a" stroke="#1a1a1a">0.4</text>
<line x1="432" y1="239.9" x2="434.6" y2="239.9" stroke="#555" stroke-width="0.8"/>
<text x="429.6" y="237.1" font-size="8.2" text-anchor="middle" font-weight="bold" fill="#1a1a1a" stroke="#1a1a1a" transform="rotate(-90 429.6 237.1)">0.6</text>
<line x1="497.9" y1="303" x2="497.9" y2="305.3" stroke="#555" stroke-width="0.8"/>
<text x="497.9" y="311.2" font-size="8.2" text-anchor="middle" font-weight="bold" fill="#1a1a1a" stroke="#1a1a1a">0.6</text>
<line x1="432" y1="220.1" x2="434.6" y2="220.1" stroke="#555" stroke-width="0.8"/>
<text x="429.6" y="217.3" font-size="8.2" text-anchor="middle" font-weight="bold" fill="#1a1a1a" stroke="#1a1a1a" transform="rotate(-90 429.6 217.3)">0.8</text>
<line x1="517.6" y1="303" x2="517.6" y2="305.3" stroke="#555" stroke-width="0.8"/>
<text x="517.6" y="311.2" font-size="8.2" text-anchor="middle" font-weight="bold" fill="#1a1a1a" stroke="#1a1a1a">0.8</text>
<line x1="432" y1="200.3" x2="434.6" y2="200.3" stroke="#555" stroke-width="0.8"/>
<text x="429.6" y="197.5" font-size="8.2" text-anchor="middle" font-weight="bold" fill="#1a1a1a" stroke="#1a1a1a" transform="rotate(-90 429.6 197.5)">1.0</text>
<line x1="537.3" y1="303" x2="537.3" y2="305.3" stroke="#555" stroke-width="0.8"/>
<text x="537.3" y="311.2" font-size="8.2" text-anchor="middle" font-weight="bold" fill="#1a1a1a" stroke="#1a1a1a">1.0</text>
<text x="489.5" y="324.5" font-size="8.8" text-anchor="middle" font-weight="bold" fill="#222" stroke="#222">1 − Specificity</text>
<text x="416.8" y="242" font-size="8.4" text-anchor="middle" font-weight="bold" fill="#222" stroke="#222" transform="rotate(-90 416.8 242)">Sensitivity</text>
<text x="511.8" y="256" font-size="9" text-anchor="middle" font-weight="bold" fill="#ee2030" stroke="#ee2030">AUC: 0.970</text>
<text x="43.6" y="347" font-size="7.3" text-anchor="start" font-weight="bold" fill="#262626" stroke="#262626" stroke-width="0.12">Group</text>
<rect x="68.4" y="341.4" width="6.5" height="6" fill="#0745b3" stroke="#222" stroke-width="0.7"/>
<text x="76" y="347" font-size="7.3" text-anchor="start" font-weight="bold" fill="#222" stroke="#222" stroke-width="0.12">Normal</text>
<rect x="103" y="341.4" width="6.5" height="6" fill="#e6345e" stroke="#222" stroke-width="0.7"/>
<text x="110.8" y="347" font-size="7.3" text-anchor="start" font-weight="bold" fill="#222" stroke="#222" stroke-width="0.12">C2</text>
<rect x="123.2" y="341.4" width="6.5" height="6" fill="#f81432" stroke="#222" stroke-width="0.7"/>
<text x="130.8" y="347" font-size="7.3" text-anchor="start" font-weight="bold" fill="#222" stroke="#222" stroke-width="0.12">C1</text>
<line x1="38.1" y1="355.4" x2="38.1" y2="469.5" stroke="#3a3a3a" stroke-width="1.3"/>
<line x1="37.6" y1="469" x2="140.8" y2="469" stroke="#3a3a3a" stroke-width="1.3"/>
<line x1="35.6" y1="363" x2="38.1" y2="363" stroke="#3a3a3a" stroke-width="0.9"/>
<text x="35.5" y="366.06" font-size="8.5" text-anchor="end" font-weight="bold" fill="#1e1e1e" stroke="#1e1e1e">6</text>
<line x1="35.6" y1="395.7" x2="38.1" y2="395.7" stroke="#3a3a3a" stroke-width="0.9"/>
<text x="35.5" y="398.76" font-size="8.5" text-anchor="end" font-weight="bold" fill="#1e1e1e" stroke="#1e1e1e">5</text>
<line x1="35.6" y1="428.1" x2="38.1" y2="428.1" stroke="#3a3a3a" stroke-width="0.9"/>
<text x="35.5" y="431.16" font-size="8.5" text-anchor="end" font-weight="bold" fill="#1e1e1e" stroke="#1e1e1e">4</text>
<line x1="35.6" y1="460.4" x2="38.1" y2="460.4" stroke="#3a3a3a" stroke-width="0.9"/>
<text x="35.5" y="463.46" font-size="8.5" text-anchor="end" font-weight="bold" fill="#1e1e1e" stroke="#1e1e1e">3</text>
<text x="44.1" y="364.8" font-size="8.6" text-anchor="start" font-weight="bold" fill="#1a1a1a" stroke="#1a1a1a">p &lt; 0.001</text>
<text x="26.6" y="409" font-size="8.2" text-anchor="middle" font-weight="bold" fill="#222" stroke="#222" transform="rotate(-90 26.6 409)">CRYL1</text>
<path d="M57.4,398.5 C57.46,399 57.61,400.52 57.75,401.5 C57.89,402.48 57.72,403.17 58.25,404.4 C58.78,405.63 60,407.4 60.95,408.9 C61.9,410.4 63.07,411.9 63.95,413.4 C64.83,414.9 65.55,416.4 66.25,417.9 C66.95,419.4 67.7,420.92 68.15,422.4 C68.6,423.88 68.92,425.32 68.95,426.8 C68.98,428.28 68.42,429.8 68.35,431.3 C68.28,432.8 68.52,434.3 68.55,435.8 C68.58,437.3 68.82,438.82 68.55,440.3 C68.28,441.78 67.72,443.22 66.95,444.7 C66.18,446.18 65,447.7 63.95,449.2 C62.9,450.7 61.52,452.45 60.65,453.7 C59.78,454.95 59.2,455.7 58.75,456.7 C58.3,457.7 58.17,458.47 57.95,459.7 C57.72,460.93 57.49,463.37 57.4,464.1 C57.31,463.37 57.08,460.93 56.85,459.7 C56.62,458.47 56.5,457.7 56.05,456.7 C55.6,455.7 55.02,454.95 54.15,453.7 C53.28,452.45 51.9,450.7 50.85,449.2 C49.8,447.7 48.62,446.18 47.85,444.7 C47.08,443.22 46.52,441.78 46.25,440.3 C45.98,438.82 46.22,437.3 46.25,435.8 C46.28,434.3 46.52,432.8 46.45,431.3 C46.38,429.8 45.82,428.28 45.85,426.8 C45.88,425.32 46.2,423.88 46.65,422.4 C47.1,420.92 47.85,419.4 48.55,417.9 C49.25,416.4 49.97,414.9 50.85,413.4 C51.73,411.9 52.9,410.4 53.85,408.9 C54.8,407.4 56.02,405.63 56.55,404.4 C57.08,403.17 56.91,402.48 57.05,401.5 C57.19,400.52 57.34,399 57.4,398.5 Z" fill="#0745b3" stroke="#111" stroke-width="1.25" stroke-linejoin="round"/>
<line x1="57.4" y1="416.4" x2="57.4" y2="447" stroke="#111" stroke-width="1.2"/>
<rect x="54.2" y="427.1" width="6.5" height="13.5" fill="#fff" stroke="#111" stroke-width="1.1"/>
<line x1="54.2" y1="428.6" x2="60.7" y2="428.6" stroke="#111" stroke-width="1.8"/>
<path d="M89.6,357 C89.65,357.55 89.82,358.87 89.9,360.3 C89.97,361.73 89.82,363.82 90.05,365.6 C90.28,367.38 90.67,369.22 91.25,371 C91.83,372.78 92.9,374.53 93.55,376.3 C94.2,378.07 94.7,379.83 95.15,381.6 C95.6,383.37 95.95,385.12 96.25,386.9 C96.55,388.68 96.77,390.52 96.95,392.3 C97.13,394.08 97.1,395.98 97.35,397.6 C97.6,399.22 97.95,400.52 98.45,402 C98.95,403.48 100.13,404.87 100.35,406.5 C100.57,408.13 100.32,410.03 99.75,411.8 C99.18,413.57 97.92,415.33 96.95,417.1 C95.98,418.87 94.9,420.63 93.95,422.4 C93,424.17 91.85,426.22 91.25,427.7 C90.65,429.18 90.62,429.67 90.35,431.3 C90.07,432.93 89.72,436.47 89.6,437.5 C89.47,436.47 89.12,432.93 88.85,431.3 C88.57,429.67 88.55,429.18 87.95,427.7 C87.35,426.22 86.2,424.17 85.25,422.4 C84.3,420.63 83.22,418.87 82.25,417.1 C81.28,415.33 80.02,413.57 79.45,411.8 C78.88,410.03 78.63,408.13 78.85,406.5 C79.07,404.87 80.25,403.48 80.75,402 C81.25,400.52 81.6,399.22 81.85,397.6 C82.1,395.98 82.07,394.08 82.25,392.3 C82.43,390.52 82.65,388.68 82.95,386.9 C83.25,385.12 83.6,383.37 84.05,381.6 C84.5,379.83 85,378.07 85.65,376.3 C86.3,374.53 87.37,372.78 87.95,371 C88.53,369.22 88.92,367.38 89.15,365.6 C89.38,363.82 89.22,361.73 89.3,360.3 C89.38,358.87 89.55,357.55 89.6,357 Z" fill="#e6345e" stroke="#111" stroke-width="1.25" stroke-linejoin="round"/>
<line x1="89.6" y1="386" x2="89.6" y2="412.7" stroke="#111" stroke-width="1.2"/>
<rect x="86.4" y="391.4" width="6.6" height="19" fill="#fff" stroke="#111" stroke-width="1.1"/>
<line x1="86.4" y1="409.6" x2="93" y2="409.6" stroke="#111" stroke-width="1.8"/>
<path d="M121.9,380.8 C121.96,381.2 122.12,382.38 122.25,383.2 C122.38,384.02 122.13,384.88 122.65,385.7 C123.17,386.52 124.3,387.3 125.35,388.1 C126.4,388.9 127.75,389.7 128.95,390.5 C130.15,391.3 131.58,392 132.55,392.9 C133.52,393.8 134.18,394.68 134.75,395.9 C135.32,397.12 135.67,398.68 135.95,400.2 C136.23,401.72 136.38,403.4 136.45,405 C136.52,406.6 136.55,408.4 136.35,409.8 C136.15,411.2 135.88,412.18 135.25,413.4 C134.62,414.62 133.6,415.88 132.55,417.1 C131.5,418.32 130.15,419.6 128.95,420.7 C127.75,421.8 126.4,422.8 125.35,423.7 C124.3,424.6 123.17,425.3 122.65,426.1 C122.13,426.9 122.38,427.68 122.25,428.5 C122.12,429.32 121.96,430.58 121.9,431 C121.84,430.58 121.68,429.32 121.55,428.5 C121.43,427.68 121.67,426.9 121.15,426.1 C120.63,425.3 119.5,424.6 118.45,423.7 C117.4,422.8 116.05,421.8 114.85,420.7 C113.65,419.6 112.3,418.32 111.25,417.1 C110.2,415.88 109.18,414.62 108.55,413.4 C107.92,412.18 107.65,411.2 107.45,409.8 C107.25,408.4 107.28,406.6 107.35,405 C107.42,403.4 107.57,401.72 107.85,400.2 C108.13,398.68 108.48,397.12 109.05,395.9 C109.62,394.68 110.28,393.8 111.25,392.9 C112.22,392 113.65,391.3 114.85,390.5 C116.05,389.7 117.4,388.9 118.45,388.1 C119.5,387.3 120.63,386.52 121.15,385.7 C121.67,384.88 121.43,384.02 121.55,383.2 C121.68,382.38 121.84,381.2 121.9,380.8 Z" fill="#f81432" stroke="#111" stroke-width="1.25" stroke-linejoin="round"/>
<line x1="121.9" y1="395.9" x2="121.9" y2="415.9" stroke="#111" stroke-width="1.2"/>
<rect x="118.7" y="400.2" width="6.6" height="11.8" fill="#fff" stroke="#111" stroke-width="1.1"/>
<line x1="118.7" y1="405.6" x2="125.3" y2="405.6" stroke="#111" stroke-width="1.8"/>
<line x1="56.8" y1="469" x2="56.8" y2="471.2" stroke="#3a3a3a" stroke-width="0.9"/>
<text x="56.8" y="478.3" font-size="8.2" text-anchor="middle" font-weight="bold" fill="#222" stroke="#222">Normal</text>
<line x1="89.6" y1="469" x2="89.6" y2="471.2" stroke="#3a3a3a" stroke-width="0.9"/>
<text x="89.6" y="478.3" font-size="8.2" text-anchor="middle" font-weight="bold" fill="#222" stroke="#222">C2</text>
<line x1="122.2" y1="469" x2="122.2" y2="471.2" stroke="#3a3a3a" stroke-width="0.9"/>
<text x="122.2" y="478.3" font-size="8.2" text-anchor="middle" font-weight="bold" fill="#222" stroke="#222">C1</text>
<text x="88.8" y="486.6" font-size="9" text-anchor="middle" font-weight="bold" fill="#262626" stroke="#262626">Group</text>
<text x="172.7" y="346.2" font-size="7.3" text-anchor="start" font-weight="bold" fill="#262626" stroke="#262626" stroke-width="0.12">Group</text>
<rect x="197.7" y="340.6" width="6.5" height="6" fill="#0745b3" stroke="#222" stroke-width="0.7"/>
<text x="204.4" y="346.2" font-size="7.3" text-anchor="start" font-weight="bold" fill="#222" stroke="#222" stroke-width="0.12">Normal</text>
<rect x="231.8" y="340.6" width="6.5" height="6" fill="#e6345e" stroke="#222" stroke-width="0.7"/>
<text x="240" y="346.2" font-size="7.3" text-anchor="start" font-weight="bold" fill="#222" stroke="#222" stroke-width="0.12">C2</text>
<rect x="251.7" y="340.6" width="6.5" height="6" fill="#f81432" stroke="#222" stroke-width="0.7"/>
<text x="259.9" y="346.2" font-size="7.3" text-anchor="start" font-weight="bold" fill="#222" stroke="#222" stroke-width="0.12">C1</text>
<line x1="168.5" y1="355.4" x2="168.5" y2="469.8" stroke="#3a3a3a" stroke-width="1.3"/>
<line x1="168" y1="469.3" x2="271.1" y2="469.3" stroke="#3a3a3a" stroke-width="1.3"/>
<line x1="166" y1="384.4" x2="168.5" y2="384.4" stroke="#3a3a3a" stroke-width="0.9"/>
<text x="165.9" y="387.46" font-size="8.5" text-anchor="end" font-weight="bold" fill="#1e1e1e" stroke="#1e1e1e">4</text>
<line x1="166" y1="426.3" x2="168.5" y2="426.3" stroke="#3a3a3a" stroke-width="0.9"/>
<text x="165.9" y="429.36" font-size="8.5" text-anchor="end" font-weight="bold" fill="#1e1e1e" stroke="#1e1e1e">3</text>
<line x1="166" y1="468.1" x2="168.5" y2="468.1" stroke="#3a3a3a" stroke-width="0.9"/>
<text x="165.9" y="471.16" font-size="8.5" text-anchor="end" font-weight="bold" fill="#1e1e1e" stroke="#1e1e1e">2</text>
<text x="172.7" y="364.3" font-size="8.6" text-anchor="start" font-weight="bold" fill="#1a1a1a" stroke="#1a1a1a">p &lt; 0.001</text>
<text x="155.3" y="409" font-size="8.2" text-anchor="middle" font-weight="bold" fill="#222" stroke="#222" transform="rotate(-90 155.3 409)">ADAM9</text>
<path d="M187.3,381.5 C187.36,382.25 187.56,384.52 187.65,386 C187.74,387.48 187.68,389.07 187.85,390.4 C188.02,391.73 188.23,392.52 188.65,394 C189.07,395.48 189.92,397.53 190.35,399.3 C190.78,401.07 190.95,402.83 191.25,404.6 C191.55,406.37 191.78,408.12 192.15,409.9 C192.52,411.68 193,413.52 193.45,415.3 C193.9,417.08 194.4,418.83 194.85,420.6 C195.3,422.37 196.1,424.13 196.15,425.9 C196.2,427.67 195.67,429.42 195.15,431.2 C194.63,432.98 193.7,434.82 193.05,436.6 C192.4,438.38 191.78,440.13 191.25,441.9 C190.72,443.67 190.28,445.43 189.85,447.2 C189.42,448.97 188.98,451.02 188.65,452.5 C188.32,453.98 188.08,454.47 187.85,456.1 C187.63,457.73 187.39,461.27 187.3,462.3 C187.21,461.27 186.97,457.73 186.75,456.1 C186.53,454.47 186.28,453.98 185.95,452.5 C185.62,451.02 185.18,448.97 184.75,447.2 C184.32,445.43 183.88,443.67 183.35,441.9 C182.82,440.13 182.2,438.38 181.55,436.6 C180.9,434.82 179.97,432.98 179.45,431.2 C178.93,429.42 178.4,427.67 178.45,425.9 C178.5,424.13 179.3,422.37 179.75,420.6 C180.2,418.83 180.7,417.08 181.15,415.3 C181.6,413.52 182.08,411.68 182.45,409.9 C182.82,408.12 183.05,406.37 183.35,404.6 C183.65,402.83 183.82,401.07 184.25,399.3 C184.68,397.53 185.53,395.48 185.95,394 C186.37,392.52 186.58,391.73 186.75,390.4 C186.92,389.07 186.86,387.48 186.95,386 C187.04,384.52 187.24,382.25 187.3,381.5 Z" fill="#0745b3" stroke="#111" stroke-width="1.25" stroke-linejoin="round"/>
<line x1="187.3" y1="401" x2="187.3" y2="444.5" stroke="#111" stroke-width="1.2"/>
<rect x="184.3" y="416.7" width="6" height="13.6" fill="#fff" stroke="#111" stroke-width="1.1"/>
<line x1="184.3" y1="429.5" x2="190.3" y2="429.5" stroke="#111" stroke-width="1.8"/>
<path d="M219.6,360.6 C219.66,361.37 219.82,364.05 219.95,365.2 C220.07,366.35 219.9,366.62 220.35,367.5 C220.8,368.38 222,369.48 222.65,370.5 C223.3,371.52 223.92,372.7 224.25,373.6 C224.58,374.5 224.78,375 224.65,375.9 C224.52,376.8 223.95,377.98 223.45,379 C222.95,380.02 222.22,380.85 221.65,382 C221.08,383.15 220.22,384.75 220.05,385.9 C219.88,387.05 220.03,387.88 220.65,388.9 C221.27,389.92 222.65,390.98 223.75,392 C224.85,393.02 226.23,393.85 227.25,395 C228.27,396.15 229.17,397.48 229.85,398.9 C230.53,400.32 231.07,402.1 231.35,403.5 C231.63,404.9 231.72,406.03 231.55,407.3 C231.38,408.57 231.07,409.82 230.35,411.1 C229.63,412.38 228.4,413.72 227.25,415 C226.1,416.28 224.55,417.67 223.45,418.8 C222.35,419.93 221.22,420.85 220.65,421.8 C220.08,422.75 220.22,423.47 220.05,424.5 C219.87,425.53 219.67,427.42 219.6,428 C219.53,427.42 219.33,425.53 219.15,424.5 C218.97,423.47 219.12,422.75 218.55,421.8 C217.98,420.85 216.85,419.93 215.75,418.8 C214.65,417.67 213.1,416.28 211.95,415 C210.8,413.72 209.57,412.38 208.85,411.1 C208.13,409.82 207.82,408.57 207.65,407.3 C207.48,406.03 207.57,404.9 207.85,403.5 C208.13,402.1 208.67,400.32 209.35,398.9 C210.03,397.48 210.93,396.15 211.95,395 C212.97,393.85 214.35,393.02 215.45,392 C216.55,390.98 217.93,389.92 218.55,388.9 C219.17,387.88 219.32,387.05 219.15,385.9 C218.98,384.75 218.12,383.15 217.55,382 C216.98,380.85 216.25,380.02 215.75,379 C215.25,377.98 214.68,376.8 214.55,375.9 C214.42,375 214.62,374.5 214.95,373.6 C215.28,372.7 215.9,371.52 216.55,370.5 C217.2,369.48 218.4,368.38 218.85,367.5 C219.3,366.62 219.12,366.35 219.25,365.2 C219.38,364.05 219.54,361.37 219.6,360.6 Z" fill="#e6345e" stroke="#111" stroke-width="1.25" stroke-linejoin="round"/>
<line x1="219.6" y1="399.6" x2="219.6" y2="412.7" stroke="#111" stroke-width="1.2"/>
<rect x="216.6" y="400.4" width="6.5" height="10" fill="#fff" stroke="#111" stroke-width="1.1"/>
<line x1="216.6" y1="401.9" x2="223.1" y2="401.9" stroke="#111" stroke-width="1.8"/>
<circle cx="219.6" cy="375.4" r="1.1" fill="#111"/>
<path d="M251.9,369.8 C251.97,370.42 252.16,372.68 252.35,373.5 C252.54,374.32 252.5,374.1 253.05,374.7 C253.6,375.3 254.6,376.3 255.65,377.1 C256.7,377.9 258.23,378.7 259.35,379.5 C260.47,380.3 261.45,381 262.35,381.9 C263.25,382.8 264.05,383.78 264.75,384.9 C265.45,386.02 266.13,387.48 266.55,388.6 C266.97,389.72 267.35,390.6 267.25,391.6 C267.15,392.6 266.77,393.6 265.95,394.6 C265.13,395.6 263.57,396.6 262.35,397.6 C261.13,398.6 259.57,399.6 258.65,400.6 C257.73,401.6 257.17,402.58 256.85,403.6 C256.53,404.62 256.95,405.68 256.75,406.7 C256.55,407.72 256.13,408.7 255.65,409.7 C255.17,410.7 254.35,411.8 253.85,412.7 C253.35,413.6 252.97,413.88 252.65,415.1 C252.33,416.32 252.03,419.18 251.9,420 C251.78,419.18 251.47,416.32 251.15,415.1 C250.83,413.88 250.45,413.6 249.95,412.7 C249.45,411.8 248.63,410.7 248.15,409.7 C247.67,408.7 247.25,407.72 247.05,406.7 C246.85,405.68 247.27,404.62 246.95,403.6 C246.63,402.58 246.07,401.6 245.15,400.6 C244.23,399.6 242.67,398.6 241.45,397.6 C240.23,396.6 238.67,395.6 237.85,394.6 C237.03,393.6 236.65,392.6 236.55,391.6 C236.45,390.6 236.83,389.72 237.25,388.6 C237.67,387.48 238.35,386.02 239.05,384.9 C239.75,383.78 240.55,382.8 241.45,381.9 C242.35,381 243.33,380.3 244.45,379.5 C245.57,378.7 247.1,377.9 248.15,377.1 C249.2,376.3 250.2,375.3 250.75,374.7 C251.3,374.1 251.26,374.32 251.45,373.5 C251.64,372.68 251.83,370.42 251.9,369.8 Z" fill="#f81432" stroke="#111" stroke-width="1.25" stroke-linejoin="round"/>
<line x1="251.9" y1="382.5" x2="251.9" y2="407.3" stroke="#111" stroke-width="1.2"/>
<rect x="248.9" y="386.7" width="6" height="8.3" fill="#fff" stroke="#111" stroke-width="1.1"/>
<line x1="248.9" y1="393.4" x2="254.9" y2="393.4" stroke="#111" stroke-width="1.8"/>
<line x1="187.2" y1="469.3" x2="187.2" y2="471.5" stroke="#3a3a3a" stroke-width="0.9"/>
<text x="187.2" y="478.3" font-size="8.2" text-anchor="middle" font-weight="bold" fill="#222" stroke="#222">Normal</text>
<line x1="220" y1="469.3" x2="220" y2="471.5" stroke="#3a3a3a" stroke-width="0.9"/>
<text x="220" y="478.3" font-size="8.2" text-anchor="middle" font-weight="bold" fill="#222" stroke="#222">C2</text>
<line x1="252.3" y1="469.3" x2="252.3" y2="471.5" stroke="#3a3a3a" stroke-width="0.9"/>
<text x="252.3" y="478.3" font-size="8.2" text-anchor="middle" font-weight="bold" fill="#222" stroke="#222">C1</text>
<text x="219" y="486.6" font-size="9" text-anchor="middle" font-weight="bold" fill="#262626" stroke="#262626">Group</text>
<text x="300" y="345.7" font-size="7.3" text-anchor="start" font-weight="bold" fill="#262626" stroke="#262626" stroke-width="0.12">Group</text>
<rect x="325.4" y="340.1" width="6.5" height="6" fill="#0745b3" stroke="#222" stroke-width="0.7"/>
<text x="332.6" y="345.7" font-size="7.3" text-anchor="start" font-weight="bold" fill="#222" stroke="#222" stroke-width="0.12">Normal</text>
<rect x="359.4" y="340.1" width="6.5" height="6" fill="#e6345e" stroke="#222" stroke-width="0.7"/>
<text x="367.2" y="345.7" font-size="7.3" text-anchor="start" font-weight="bold" fill="#222" stroke="#222" stroke-width="0.12">C2</text>
<rect x="379" y="340.1" width="6.5" height="6" fill="#f81432" stroke="#222" stroke-width="0.7"/>
<text x="387.2" y="345.7" font-size="7.3" text-anchor="start" font-weight="bold" fill="#222" stroke="#222" stroke-width="0.12">C1</text>
<line x1="296.7" y1="354.5" x2="296.7" y2="469.5" stroke="#3a3a3a" stroke-width="1.3"/>
<line x1="296.2" y1="469" x2="399.3" y2="469" stroke="#3a3a3a" stroke-width="1.3"/>
<line x1="294.2" y1="369" x2="296.7" y2="369" stroke="#3a3a3a" stroke-width="0.9"/>
<text x="294.1" y="372.06" font-size="8.5" text-anchor="end" font-weight="bold" fill="#1e1e1e" stroke="#1e1e1e">6</text>
<line x1="294.2" y1="405.6" x2="296.7" y2="405.6" stroke="#3a3a3a" stroke-width="0.9"/>
<text x="294.1" y="408.66" font-size="8.5" text-anchor="end" font-weight="bold" fill="#1e1e1e" stroke="#1e1e1e">5</text>
<line x1="294.2" y1="443" x2="296.7" y2="443" stroke="#3a3a3a" stroke-width="0.9"/>
<text x="294.1" y="446.06" font-size="8.5" text-anchor="end" font-weight="bold" fill="#1e1e1e" stroke="#1e1e1e">4</text>
<text x="300.9" y="364.3" font-size="8.6" text-anchor="start" font-weight="bold" fill="#1a1a1a" stroke="#1a1a1a">p &lt; 0.001</text>
<text x="284.2" y="409" font-size="8.2" text-anchor="middle" font-weight="bold" fill="#222" stroke="#222" transform="rotate(-90 284.2 409)">NDP52</text>
<path d="M315.8,393.9 C315.86,394.58 316.06,396.68 316.15,398 C316.24,399.32 316.17,400.65 316.35,401.8 C316.53,402.95 316.72,403.85 317.25,404.9 C317.78,405.95 318.77,407.05 319.55,408.1 C320.33,409.15 321.2,410.02 321.95,411.2 C322.7,412.38 323.52,413.88 324.05,415.2 C324.58,416.52 325.1,417.8 325.15,419.1 C325.2,420.4 324.83,421.55 324.35,423 C323.87,424.45 322.87,426.22 322.25,427.8 C321.63,429.38 321.1,430.93 320.65,432.5 C320.2,434.07 319.92,435.63 319.55,437.2 C319.18,438.77 318.78,440.33 318.45,441.9 C318.12,443.47 317.88,445.03 317.55,446.6 C317.22,448.17 316.67,449.72 316.45,451.3 C316.23,452.88 316.36,454 316.25,456.1 C316.14,458.2 315.88,462.6 315.8,463.9 C315.73,462.6 315.46,458.2 315.35,456.1 C315.24,454 315.37,452.88 315.15,451.3 C314.93,449.72 314.38,448.17 314.05,446.6 C313.72,445.03 313.48,443.47 313.15,441.9 C312.82,440.33 312.42,438.77 312.05,437.2 C311.68,435.63 311.4,434.07 310.95,432.5 C310.5,430.93 309.97,429.38 309.35,427.8 C308.73,426.22 307.73,424.45 307.25,423 C306.77,421.55 306.4,420.4 306.45,419.1 C306.5,417.8 307.02,416.52 307.55,415.2 C308.08,413.88 308.9,412.38 309.65,411.2 C310.4,410.02 311.27,409.15 312.05,408.1 C312.83,407.05 313.82,405.95 314.35,404.9 C314.88,403.85 315.07,402.95 315.25,401.8 C315.43,400.65 315.36,399.32 315.45,398 C315.54,396.68 315.74,394.58 315.8,393.9 Z" fill="#0745b3" stroke="#111" stroke-width="1.25" stroke-linejoin="round"/>
<line x1="315.8" y1="412.8" x2="315.8" y2="445.1" stroke="#111" stroke-width="1.2"/>
<rect x="312.7" y="419.1" width="5.8" height="15.7" fill="#fff" stroke="#111" stroke-width="1.1"/>
<line x1="312.7" y1="421.5" x2="318.5" y2="421.5" stroke="#111" stroke-width="1.8"/>
<path d="M347.9,359.2 C347.96,359.68 348.02,361.38 348.25,362.1 C348.48,362.82 348.48,362.92 349.25,363.5 C350.02,364.08 351.88,364.78 352.85,365.6 C353.82,366.42 355.05,367.47 355.05,368.4 C355.05,369.33 353.82,370.25 352.85,371.2 C351.88,372.15 350,373.27 349.25,374.1 C348.5,374.93 348.5,375.03 348.35,376.2 C348.2,377.37 348.08,379.93 348.35,381.1 C348.62,382.27 348.97,382.48 349.95,383.2 C350.93,383.92 352.72,384.57 354.25,385.4 C355.78,386.23 357.65,387.1 359.15,388.2 C360.65,389.3 363.37,390.82 363.25,392 C363.13,393.18 360.07,394.28 358.45,395.3 C356.83,396.32 354.97,397.17 353.55,398.1 C352.13,399.03 350.67,400.08 349.95,400.9 C349.23,401.72 348.88,402.18 349.25,403 C349.62,403.82 351.23,404.73 352.15,405.8 C353.07,406.87 354.75,408.22 354.75,409.4 C354.75,410.58 353.07,411.85 352.15,412.9 C351.23,413.95 349.9,414.93 349.25,415.7 C348.6,416.47 348.48,416.9 348.25,417.5 C348.02,418.1 347.96,419 347.9,419.3 C347.84,419 347.77,418.1 347.55,417.5 C347.32,416.9 347.2,416.47 346.55,415.7 C345.9,414.93 344.57,413.95 343.65,412.9 C342.73,411.85 341.05,410.58 341.05,409.4 C341.05,408.22 342.73,406.87 343.65,405.8 C344.57,404.73 346.18,403.82 346.55,403 C346.92,402.18 346.57,401.72 345.85,400.9 C345.13,400.08 343.67,399.03 342.25,398.1 C340.83,397.17 338.97,396.32 337.35,395.3 C335.73,394.28 332.67,393.18 332.55,392 C332.43,390.82 335.15,389.3 336.65,388.2 C338.15,387.1 340.02,386.23 341.55,385.4 C343.08,384.57 344.87,383.92 345.85,383.2 C346.83,382.48 347.18,382.27 347.45,381.1 C347.72,379.93 347.6,377.37 347.45,376.2 C347.3,375.03 347.3,374.93 346.55,374.1 C345.8,373.27 343.92,372.15 342.95,371.2 C341.98,370.25 340.75,369.33 340.75,368.4 C340.75,367.47 341.98,366.42 342.95,365.6 C343.92,364.78 345.78,364.08 346.55,363.5 C347.32,362.92 347.32,362.82 347.55,362.1 C347.77,361.38 347.84,359.68 347.9,359.2 Z" fill="#e6345e" stroke="#111" stroke-width="1.25" stroke-linejoin="round"/>
<rect x="344.8" y="390.3" width="6.4" height="5.9" fill="#fff" stroke="#111" stroke-width="1.1"/>
<line x1="344.8" y1="393.1" x2="351.2" y2="393.1" stroke="#111" stroke-width="1.8"/>
<circle cx="347.9" cy="368.8" r="1.1" fill="#111"/>
<circle cx="347.9" cy="410.2" r="1.1" fill="#111"/>
<path d="M380.3,373.1 C380.48,373.67 380.76,375.52 381.35,376.5 C381.94,377.48 382.72,378 383.85,379 C384.98,380 386.58,381.38 388.15,382.5 C389.72,383.62 391.98,384.63 393.25,385.7 C394.52,386.77 395.87,387.83 395.75,388.9 C395.63,389.97 394.03,391.03 392.55,392.1 C391.07,393.17 388.43,394.13 386.85,395.3 C385.27,396.47 383.9,397.93 383.05,399.1 C382.2,400.27 381.75,401.23 381.75,402.3 C381.75,403.37 382.58,404.23 383.05,405.5 C383.52,406.77 384.45,408.42 384.55,409.9 C384.65,411.38 384.12,413.02 383.65,414.4 C383.18,415.78 382.22,416.93 381.75,418.2 C381.28,419.47 381.09,420.18 380.85,422 C380.61,423.82 380.39,427.92 380.3,429.1 C380.21,427.92 379.99,423.82 379.75,422 C379.51,420.18 379.32,419.47 378.85,418.2 C378.38,416.93 377.42,415.78 376.95,414.4 C376.48,413.02 375.95,411.38 376.05,409.9 C376.15,408.42 377.08,406.77 377.55,405.5 C378.02,404.23 378.85,403.37 378.85,402.3 C378.85,401.23 378.4,400.27 377.55,399.1 C376.7,397.93 375.33,396.47 373.75,395.3 C372.17,394.13 369.53,393.17 368.05,392.1 C366.57,391.03 364.97,389.97 364.85,388.9 C364.73,387.83 366.08,386.77 367.35,385.7 C368.62,384.63 370.88,383.62 372.45,382.5 C374.02,381.38 375.62,380 376.75,379 C377.88,378 378.66,377.48 379.25,376.5 C379.84,375.52 380.12,373.67 380.3,373.1 Z" fill="#f81432" stroke="#111" stroke-width="1.25" stroke-linejoin="round"/>
<line x1="380.3" y1="387.4" x2="380.3" y2="418.7" stroke="#111" stroke-width="1.2"/>
<rect x="377.7" y="389.5" width="5.5" height="9.6" fill="#fff" stroke="#111" stroke-width="1.1"/>
<line x1="377.7" y1="390.2" x2="383.2" y2="390.2" stroke="#111" stroke-width="1.8"/>
<line x1="315.4" y1="469" x2="315.4" y2="471.2" stroke="#3a3a3a" stroke-width="0.9"/>
<text x="315.4" y="478.3" font-size="8.2" text-anchor="middle" font-weight="bold" fill="#222" stroke="#222">Normal</text>
<line x1="347.8" y1="469" x2="347.8" y2="471.2" stroke="#3a3a3a" stroke-width="0.9"/>
<text x="347.8" y="478.3" font-size="8.2" text-anchor="middle" font-weight="bold" fill="#222" stroke="#222">C2</text>
<line x1="379.9" y1="469" x2="379.9" y2="471.2" stroke="#3a3a3a" stroke-width="0.9"/>
<text x="379.9" y="478.3" font-size="8.2" text-anchor="middle" font-weight="bold" fill="#222" stroke="#222">C1</text>
<text x="348" y="486.6" font-size="9" text-anchor="middle" font-weight="bold" fill="#262626" stroke="#262626">Group</text>
<text x="434.8" y="345.5" font-size="7.3" text-anchor="start" font-weight="bold" fill="#262626" stroke="#262626" stroke-width="0.12">Group</text>
<rect x="459.9" y="339.9" width="6.5" height="6" fill="#0745b3" stroke="#222" stroke-width="0.7"/>
<text x="466.8" y="345.5" font-size="7.3" text-anchor="start" font-weight="bold" fill="#222" stroke="#222" stroke-width="0.12">Normal</text>
<rect x="494.1" y="339.9" width="6.5" height="6" fill="#e6345e" stroke="#222" stroke-width="0.7"/>
<text x="502.1" y="345.5" font-size="7.3" text-anchor="start" font-weight="bold" fill="#222" stroke="#222" stroke-width="0.12">C2</text>
<rect x="514.1" y="339.9" width="6.5" height="6" fill="#f81432" stroke="#222" stroke-width="0.7"/>
<text x="522.1" y="345.5" font-size="7.3" text-anchor="start" font-weight="bold" fill="#222" stroke="#222" stroke-width="0.12">C1</text>
<line x1="430" y1="355.4" x2="430" y2="470.4" stroke="#3a3a3a" stroke-width="1.3"/>
<line x1="429.5" y1="469.9" x2="533.5" y2="469.9" stroke="#3a3a3a" stroke-width="1.3"/>
<line x1="427.5" y1="376.3" x2="430" y2="376.3" stroke="#3a3a3a" stroke-width="0.9"/>
<text x="427.4" y="379.36" font-size="8.5" text-anchor="end" font-weight="bold" fill="#1e1e1e" stroke="#1e1e1e">3</text>
<line x1="427.5" y1="400" x2="430" y2="400" stroke="#3a3a3a" stroke-width="0.9"/>
<text x="427.4" y="403.06" font-size="8.5" text-anchor="end" font-weight="bold" fill="#1e1e1e" stroke="#1e1e1e">2</text>
<line x1="427.5" y1="423.8" x2="430" y2="423.8" stroke="#3a3a3a" stroke-width="0.9"/>
<text x="427.4" y="426.86" font-size="8.5" text-anchor="end" font-weight="bold" fill="#1e1e1e" stroke="#1e1e1e">1</text>
<line x1="427.5" y1="447.5" x2="430" y2="447.5" stroke="#3a3a3a" stroke-width="0.9"/>
<text x="427.4" y="450.56" font-size="8.5" text-anchor="end" font-weight="bold" fill="#1e1e1e" stroke="#1e1e1e">0</text>
<text x="465.8" y="374.2" font-size="7" text-anchor="start" font-weight="bold" fill="#1a1a1a" stroke="#1a1a1a" stroke-width="0.12">p &lt; 0.001</text>
<text x="416.6" y="409" font-size="8.2" text-anchor="middle" font-weight="bold" fill="#222" stroke="#222" transform="rotate(-90 416.6 409)">SERPINA7</text>
<path d="M449.3,360.3 C449.38,361.03 449.41,363.6 449.75,364.7 C450.09,365.8 450.42,366.05 451.35,366.9 C452.28,367.75 454.03,368.83 455.35,369.8 C456.67,370.77 458.12,371.62 459.25,372.7 C460.38,373.78 461.47,375.1 462.15,376.3 C462.83,377.5 463.35,378.7 463.35,379.9 C463.35,381.1 462.83,382.28 462.15,383.5 C461.47,384.72 460.22,385.87 459.25,387.2 C458.28,388.53 457.18,389.93 456.35,391.5 C455.52,393.07 454.9,394.78 454.25,396.6 C453.6,398.42 452.93,400.47 452.45,402.4 C451.97,404.33 451.73,406.27 451.35,408.2 C450.97,410.13 450.43,412.32 450.15,414 C449.87,415.68 449.79,416.62 449.65,418.3 C449.51,419.98 449.36,423.13 449.3,424.1 C449.24,423.13 449.09,419.98 448.95,418.3 C448.81,416.62 448.73,415.68 448.45,414 C448.17,412.32 447.63,410.13 447.25,408.2 C446.87,406.27 446.63,404.33 446.15,402.4 C445.67,400.47 445,398.42 444.35,396.6 C443.7,394.78 443.08,393.07 442.25,391.5 C441.42,389.93 440.32,388.53 439.35,387.2 C438.38,385.87 437.13,384.72 436.45,383.5 C435.77,382.28 435.25,381.1 435.25,379.9 C435.25,378.7 435.77,377.5 436.45,376.3 C437.13,375.1 438.22,373.78 439.35,372.7 C440.48,371.62 441.93,370.77 443.25,369.8 C444.57,368.83 446.32,367.75 447.25,366.9 C448.18,366.05 448.51,365.8 448.85,364.7 C449.19,363.6 449.23,361.03 449.3,360.3 Z" fill="#0745b3" stroke="#111" stroke-width="1.25" stroke-linejoin="round"/>
<line x1="449.3" y1="377" x2="449.3" y2="409" stroke="#111" stroke-width="1.2"/>
<rect x="445.9" y="379.2" width="7" height="12.3" fill="#fff" stroke="#111" stroke-width="1.1"/>
<line x1="445.9" y1="381.4" x2="452.9" y2="381.4" stroke="#111" stroke-width="1.8"/>
<path d="M481.3,412.8 C481.38,413.52 481.52,416.08 481.75,417.1 C481.98,418.12 482.1,418.2 482.65,418.9 C483.2,419.6 484.3,420.4 485.05,421.3 C485.8,422.2 486.75,423.3 487.15,424.3 C487.55,425.3 487.7,426.3 487.45,427.3 C487.2,428.3 486.15,429.38 485.65,430.3 C485.15,431.22 484.25,431.98 484.45,432.8 C484.65,433.62 485.63,434.3 486.85,435.2 C488.07,436.1 490.37,437.2 491.75,438.2 C493.13,439.2 494.32,440.2 495.15,441.2 C495.98,442.2 496.43,443.3 496.75,444.2 C497.07,445.1 497.18,445.68 497.05,446.6 C496.92,447.52 496.63,448.68 495.95,449.7 C495.27,450.72 494.15,451.7 492.95,452.7 C491.75,453.7 490.27,454.7 488.75,455.7 C487.23,456.7 484.95,457.8 483.85,458.7 C482.75,459.6 482.58,460.08 482.15,461.1 C481.73,462.12 481.44,464.18 481.3,464.8 C481.16,464.18 480.88,462.12 480.45,461.1 C480.02,460.08 479.85,459.6 478.75,458.7 C477.65,457.8 475.37,456.7 473.85,455.7 C472.33,454.7 470.85,453.7 469.65,452.7 C468.45,451.7 467.33,450.72 466.65,449.7 C465.97,448.68 465.68,447.52 465.55,446.6 C465.42,445.68 465.53,445.1 465.85,444.2 C466.17,443.3 466.62,442.2 467.45,441.2 C468.28,440.2 469.47,439.2 470.85,438.2 C472.23,437.2 474.53,436.1 475.75,435.2 C476.97,434.3 477.95,433.62 478.15,432.8 C478.35,431.98 477.45,431.22 476.95,430.3 C476.45,429.38 475.4,428.3 475.15,427.3 C474.9,426.3 475.05,425.3 475.45,424.3 C475.85,423.3 476.8,422.2 477.55,421.3 C478.3,420.4 479.4,419.6 479.95,418.9 C480.5,418.2 480.62,418.12 480.85,417.1 C481.08,416.08 481.23,413.52 481.3,412.8 Z" fill="#e6345e" stroke="#111" stroke-width="1.25" stroke-linejoin="round"/>
<line x1="481.3" y1="440" x2="481.3" y2="451.5" stroke="#111" stroke-width="1.2"/>
<rect x="478.5" y="440.9" width="6.1" height="8.8" fill="#fff" stroke="#111" stroke-width="1.1"/>
<line x1="478.5" y1="443" x2="484.6" y2="443" stroke="#111" stroke-width="1.8"/>
<circle cx="481.3" cy="426.4" r="1.1" fill="#111"/>
<path d="M514.1,374.8 C514.16,375.33 514.36,376.92 514.45,378 C514.54,379.08 514.43,380.22 514.65,381.3 C514.87,382.38 515.17,383.43 515.75,384.5 C516.33,385.57 517.48,386.62 518.15,387.7 C518.82,388.78 519.42,389.78 519.75,391 C520.08,392.22 520.02,393.67 520.15,395 C520.28,396.33 520.22,397.78 520.55,399 C520.88,400.22 521.53,401.08 522.15,402.3 C522.77,403.52 523.65,404.83 524.25,406.3 C524.85,407.77 525.68,409.62 525.75,411.1 C525.82,412.58 525.38,413.72 524.65,415.2 C523.92,416.68 522.3,418.4 521.35,420 C520.4,421.6 519.75,423.18 518.95,424.8 C518.15,426.42 517.22,428.08 516.55,429.7 C515.88,431.32 515.27,433.17 514.95,434.5 C514.63,435.83 514.79,436.22 514.65,437.7 C514.51,439.18 514.19,442.45 514.1,443.4 C514.01,442.45 513.69,439.18 513.55,437.7 C513.41,436.22 513.57,435.83 513.25,434.5 C512.93,433.17 512.32,431.32 511.65,429.7 C510.98,428.08 510.05,426.42 509.25,424.8 C508.45,423.18 507.8,421.6 506.85,420 C505.9,418.4 504.28,416.68 503.55,415.2 C502.82,413.72 502.38,412.58 502.45,411.1 C502.52,409.62 503.35,407.77 503.95,406.3 C504.55,404.83 505.43,403.52 506.05,402.3 C506.67,401.08 507.32,400.22 507.65,399 C507.98,397.78 507.92,396.33 508.05,395 C508.18,393.67 508.12,392.22 508.45,391 C508.78,389.78 509.38,388.78 510.05,387.7 C510.72,386.62 511.87,385.57 512.45,384.5 C513.03,383.43 513.33,382.38 513.55,381.3 C513.77,380.22 513.66,379.08 513.75,378 C513.84,376.92 514.04,375.33 514.1,374.8 Z" fill="#f81432" stroke="#111" stroke-width="1.25" stroke-linejoin="round"/>
<line x1="514.1" y1="394.2" x2="514.1" y2="427.3" stroke="#111" stroke-width="1.2"/>
<rect x="511.3" y="402.3" width="6" height="13.2" fill="#fff" stroke="#111" stroke-width="1.1"/>
<line x1="511.3" y1="413.5" x2="517.3" y2="413.5" stroke="#111" stroke-width="1.8"/>
<line x1="449" y1="469.9" x2="449" y2="472.1" stroke="#3a3a3a" stroke-width="0.9"/>
<text x="449" y="478.3" font-size="8.2" text-anchor="middle" font-weight="bold" fill="#222" stroke="#222">Normal</text>
<line x1="481.8" y1="469.9" x2="481.8" y2="472.1" stroke="#3a3a3a" stroke-width="0.9"/>
<text x="481.8" y="478.3" font-size="8.2" text-anchor="middle" font-weight="bold" fill="#222" stroke="#222">C2</text>
<line x1="514.1" y1="469.9" x2="514.1" y2="472.1" stroke="#3a3a3a" stroke-width="0.9"/>
<text x="514.1" y="478.3" font-size="8.2" text-anchor="middle" font-weight="bold" fill="#222" stroke="#222">C1</text>
<text x="482.7" y="486.6" font-size="9" text-anchor="middle" font-weight="bold" fill="#262626" stroke="#262626">Group</text>
</svg></body></html>
